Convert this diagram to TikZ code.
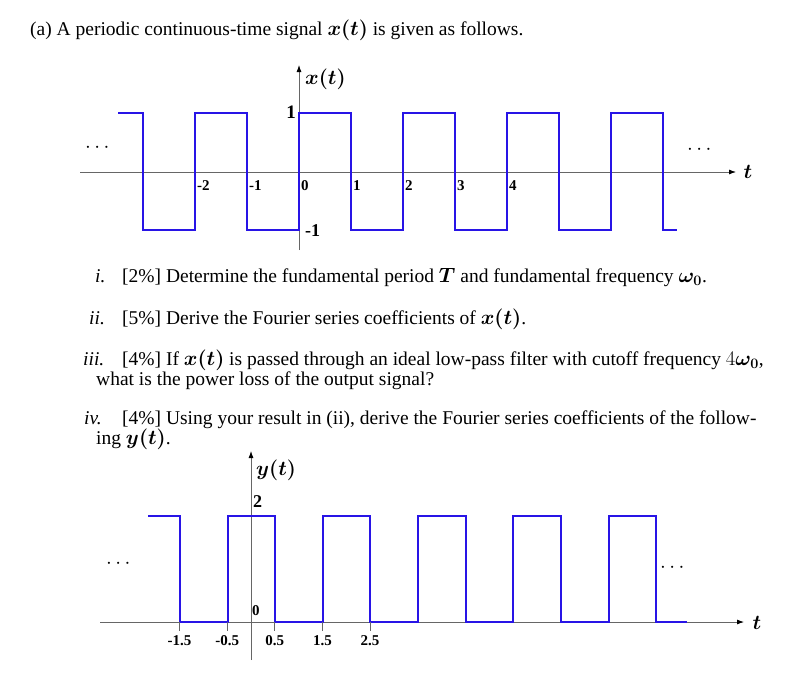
\documentclass[tikz,border=0pt]{standalone}
\usepackage{fontspec}
\setmainfont{Liberation Serif}
\usepackage{amsmath,bm}
\usetikzlibrary{arrows.meta}
\begin{document}
\begin{tikzpicture}[x=1pt,y=-1pt,
  wave/.style={draw={rgb,255:red,40;green,20;blue,230},line width=2.4pt,line join=miter},
  axis/.style={draw=black!60,line width=0.8pt,-{Latex[length=7pt,width=5pt,fill=black,color=black]}},
  lab/.style={font=\fontsize{15}{15}\selectfont\bfseries,inner sep=1pt},
  big/.style={font=\fontsize{20}{20}\selectfont,inner sep=1pt},
  txt/.style={font=\fontsize{19.5}{20}\selectfont,inner sep=0pt,anchor=base west,align=left}]
\useasboundingbox (0,0) rectangle (800,697);
% title
\node[txt] (title) at (30,35) {(a) A periodic continuous-time signal $\bm{x(t)}$ is given as follows.};
% top graph
\draw[axis] (80,172) -- (736,172);
\node[big] (tt) at (748,172) {$\bm{t}$};
\draw[axis] (299,250) -- (299,65);
\node[big,anchor=west] (xt) at (304,79) {$\bm{x(t)}$};
\draw[wave] (118,113) -- (143,113) -- (143,230) -- (195,230) -- (195,113) -- (247,113) -- (247,230) -- (299,230) -- (299,113) -- (351,113) -- (351,230) -- (403,230) -- (403,113) -- (455,113) -- (455,230) -- (507,230) -- (507,113) -- (559,113) -- (559,230) -- (611,230) -- (611,113) -- (663,113) -- (663,230) -- (677,230);
\node[lab,anchor=east] (one) at (297,112) {\fontsize{19}{19}\selectfont 1};
\node[lab,anchor=west] (mone) at (304,231) {\fontsize{18}{18}\selectfont -1};
\foreach \v/\n [count=\i] in {-2/a,-1/b,0/c,1/d,2/e,3/f,4/g}
  \node[lab,anchor=west] (l\n) at ({299+52*\v+1},186) {\v};
\node[big] (dl) at (99,148) {$\cdots$};
\node[big] (dr) at (701,150) {$\cdots$};
% items
\node[txt] (i1) at (95,282) {\makebox[27pt][l]{\textit{i.}}[2\%] Determine the fundamental period $\bm{T}$ and fundamental frequency $\bm{\omega_0}$.};
\node[txt] (i2) at (89,324) {\makebox[33pt][l]{\textit{ii.}}[5\%] Derive the Fourier series coefficients of $\bm{x(t)}$.};
\node[txt] (i3) at (83,365) {\makebox[39pt][l]{\textit{iii.}}[4\%] If $\bm{x(t)}$ is passed through an ideal low-pass filter with cutoff frequency $4\bm{\omega_0}$,};
\node[txt] (i3b) at (96,385) {what is the power loss of the output signal?};
\node[txt] (i4) at (84,424) {\makebox[38pt][l]{\textit{iv.}}[4\%] Using your result in (ii), derive the Fourier series coefficients of the follow-};
\node[txt] (i4b) at (96,444) {ing $\bm{y(t)}$.};
% bottom graph
\draw[axis] (100,622) -- (744,622);
\node[big] (tb) at (757,623) {$\bm{t}$};
\draw[axis] (251,660) -- (251,451);
\node[big,anchor=west] (yt) at (255,470) {$\bm{y(t)}$};
\draw[wave] (148,516) -- (180,516) -- (180,622) -- (228,622) -- (228,516) -- (275,516) -- (275,622) -- (323,622) -- (323,516) -- (370,516) -- (370,622) -- (418,622) -- (418,516) -- (466,516) -- (466,622) -- (513,622) -- (513,516) -- (561,516) -- (561,622) -- (609,622) -- (609,516) -- (656,516) -- (656,622) -- (687,622);
\foreach \v in {-1.5,-0.5,0.5,1.5,2.5}
  \draw[black!60,line width=0.8pt] ({251+47.6*\v},622) -- ({251+47.6*\v},631);
\foreach \v/\n in {-1.5/a,-0.5/b,0.5/c,1.5/d,2.5/e}
  \node[lab] (m\n) at ({251+47.6*\v},641) {\v};
\node[lab,anchor=west] (two) at (252,502) {\fontsize{18}{18}\selectfont 2};
\node[lab,anchor=west] (zero) at (251,611) {0};
\node[big] (dbl) at (120,564) {$\cdots$};
\node[big] (dbr) at (674,568) {$\cdots$};
\end{tikzpicture}
\end{document}
